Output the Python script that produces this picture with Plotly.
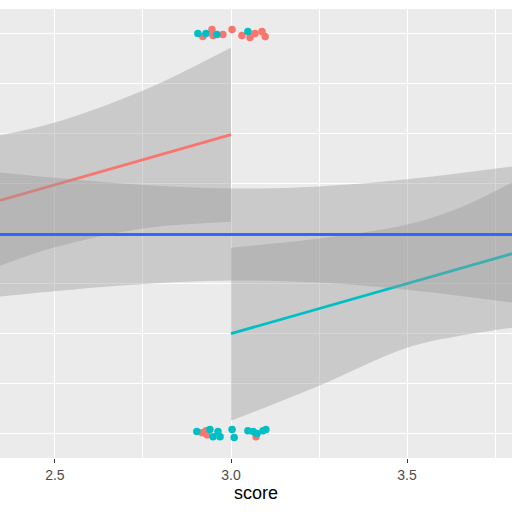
import plotly.graph_objs as go

# jittered points (score vs outcome), by group
red_pts_x = [2.920, 2.946, 2.949, 2.977, 3.003, 3.031, 3.054, 3.068, 3.088, 3.097,
             2.918, 2.929, 2.932, 3.071]
red_pts_y = [0.992, 1.010, 0.995, 0.997, 1.010, 0.995, 0.990, 1.000, 1.005, 0.992,
             0.001, 0.006, -0.004, -0.009]
teal_pts_x = [2.906, 2.929, 2.960, 3.048,
              2.903, 2.940, 2.949, 2.963, 2.969, 3.003, 3.009, 3.048, 3.063, 3.074, 3.091, 3.099]
teal_pts_y = [1.000, 1.000, 0.997, 1.005,
              0.004, 0.009, -0.009, 0.004, -0.009, 0.009, -0.011, 0.006, 0.004, -0.001, 0.006, 0.009]

# group fits with confidence bands
red_x = [2.344, 2.5, 2.75, 3.0]
red_fit = [0.582, 0.621, 0.685, 0.747]
red_hi = [0.745, 0.777, 0.857, 0.965]
red_lo = [0.419, 0.465, 0.512, 0.529]

teal_x = [3.0, 3.25, 3.5, 3.65, 3.798]
teal_fit = [0.249, 0.312, 0.374, 0.412, 0.449]
teal_hi = [0.464, 0.487, 0.522, 0.564, 0.627]
teal_lo = [0.031, 0.119, 0.214, 0.244, 0.264]

# overall fit
all_x = [2.344, 2.7, 3.0, 3.25, 3.5, 3.798]
all_fit = [0.497, 0.497, 0.497, 0.497, 0.497, 0.497]
all_hi = [0.652, 0.624, 0.612, 0.617, 0.635, 0.667]
all_lo = [0.342, 0.370, 0.382, 0.377, 0.359, 0.327]

RED = '#F8766D'
TEAL = '#00BFC4'
BLUE = '#3366FF'
RIBBON = 'rgba(153,153,153,0.4)'

fig = go.Figure()

fig.add_trace(go.Scatter(x=red_pts_x, y=red_pts_y, mode='markers',
                         marker=dict(color=RED, size=7.5)))
fig.add_trace(go.Scatter(x=teal_pts_x, y=teal_pts_y, mode='markers',
                         marker=dict(color=TEAL, size=7.5)))


def add_smooth(xs, fit, lo, hi, color, width):
    fig.add_trace(go.Scatter(x=xs, y=lo, mode='lines',
                             line=dict(width=0, shape='spline')))
    fig.add_trace(go.Scatter(x=xs, y=hi, mode='lines', fill='tonexty',
                             fillcolor=RIBBON, line=dict(width=0, shape='spline')))
    fig.add_trace(go.Scatter(x=xs, y=fit, mode='lines',
                             line=dict(color=color, width=width)))


add_smooth(red_x, red_fit, red_lo, red_hi, RED, 2.8)
add_smooth(teal_x, teal_fit, teal_lo, teal_hi, TEAL, 2.8)
add_smooth(all_x, all_fit, all_lo, all_hi, BLUE, 3)

fig.update_layout(
    width=512, height=512,
    margin=dict(l=0, r=0, t=9, b=54),
    paper_bgcolor='white', plot_bgcolor='#EBEBEB',
    showlegend=False,
    font=dict(family='Liberation Sans', color='#4D4D4D'),
)
fig.update_xaxes(
    range=[2.344, 3.798], dtick=0.5, tick0=2.5, tickformat='.1f',
    showgrid=True, gridcolor='white', gridwidth=1.2, zeroline=False,
    minor=dict(dtick=0.25, tick0=2.25, showgrid=True, gridcolor='white', gridwidth=0.6),
    ticks='outside', ticklen=4, tickcolor='#333333', tickwidth=1.1,
    tickfont=dict(size=14, color='#4D4D4D'),
    title=dict(text='score', font=dict(size=18, color='black'), standoff=3),
)
fig.update_yaxes(
    range=[-0.062, 1.061], dtick=0.25, tick0=0,
    showgrid=True, gridcolor='white', gridwidth=1.2, zeroline=False,
    minor=dict(dtick=0.125, tick0=0, showgrid=True, gridcolor='white', gridwidth=0.6),
    showticklabels=False, ticks='',
)

# drop the page's default 8px body margin so the figure sits at the window's corner
fig.write_html("out.html", config={'displayModeBar': False},
               post_script="document.body.style.margin='0';document.body.style.overflow='hidden';")
